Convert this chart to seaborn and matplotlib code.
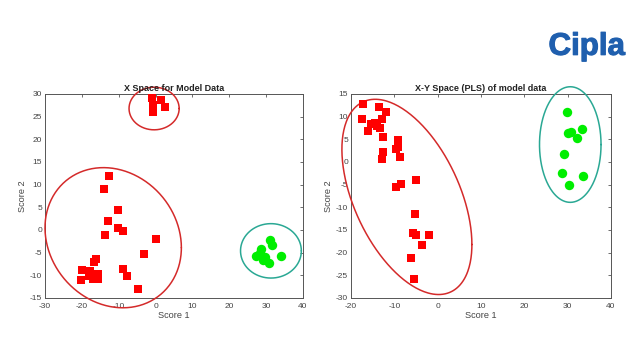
import numpy as np
import pandas as pd
import matplotlib.pyplot as plt
import matplotlib.patheffects as pe
import seaborn as sns

# Left panel: X space scores for the model data
x_red_s1 = [-1.1, 1.6, -0.8, -0.6, 2.5,
            -12.6, -14.0, -10.1, -13.0, -10.1, -8.9, -13.8, 0.0, -3.1,
            -16.2, -16.7, -20.0, -17.8, -15.5, -18.0, -16.9, -15.5,
            -8.9, -7.8, -20.3, -4.7]
x_red_s2 = [29.2, 28.7, 27.6, 26.1, 27.1,
            12.0, 9.1, 4.4, 2.0, 0.4, -0.2, -1.1, -2.0, -5.3,
            -6.5, -7.1, -8.8, -9.0, -9.6, -10.2, -10.8, -10.8,
            -8.7, -10.1, -11.0, -13.0]
x_green_s1 = [31.1, 31.7, 28.5, 28.2, 27.2, 29.6, 29.2, 30.8, 34.0]
x_green_s2 = [-2.3, -3.3, -4.1, -5.0, -5.7, -6.0, -6.7, -7.3, -5.8]

# Right panel: X-Y space (PLS) scores
xy_red_s1 = [-17.2, -13.5, -11.9, -17.5, -12.9, -15.5, -14.5, -14.1, -13.3,
             -16.0, -12.5, -9.1, -9.1, -9.1, -9.5, -12.5, -8.7, -12.8,
             -5.0, -8.5, -9.6, -5.2, -5.7, -5.1, -1.9, -3.7, -6.2, -5.5]
xy_red_s2 = [12.7, 12.2, 11.0, 9.5, 9.5, 8.4, 8.5, 8.0, 7.6,
             6.9, 5.6, 4.9, 3.9, 3.4, 2.9, 2.3, 1.1, 0.7,
             -4.0, -4.9, -5.6, -11.5, -15.7, -16.1, -16.1, -18.2, -21.1, -25.8]
xy_green_s1 = [29.8, 30.1, 30.8, 33.3, 32.2, 29.1, 28.7, 33.5, 30.2]
xy_green_s2 = [11.1, 6.3, 6.7, 7.3, 5.2, 1.8, -2.5, -3.1, -5.0]

# cluster ellipses: (cx, cy, half-width, half-height, shear)
left_ellipses = [(-0.4, 26.8, 6.8, 4.7, 0.0, '#d42a2a'),
                 (-11.5, -1.7, 18.5, 15.3, -2.2, '#d42a2a'),
                 (31.3, -4.6, 8.25, 6.0, 0.0, '#2aa894')]
right_ellipses = [(-7.1, -7.7, 15.0, 18.8, -10.5, '#d42a2a'),
                  (30.6, 3.85, 7.1, 12.75, 0.0, '#2aa894')]

sns.set_style('white')
plt.rcParams['font.family'] = ['Liberation Sans', 'DejaVu Sans']
plt.rcParams['axes.unicode_minus'] = False

RED = '#ff0000'
GREEN = '#00ee00'
AX_COL = '#555555'


def draw_ellipse(ax, cx, cy, a, e, d, color):
    t = np.linspace(0, 2 * np.pi, 300)
    ax.plot(cx + a * np.cos(t), cy + d * np.cos(t) + e * np.sin(t),
            color=color, lw=1.1, clip_on=False, zorder=3)


def panel(ax, rs1, rs2, gs1, gs2, ellipses, title, xlim, ylim):
    red = pd.DataFrame({'s1': rs1, 's2': rs2})
    green = pd.DataFrame({'s1': gs1, 's2': gs2})
    sns.scatterplot(data=red, x='s1', y='s2', ax=ax, marker='s', s=30,
                    color=RED, edgecolor=RED, linewidth=0, zorder=4)
    sns.scatterplot(data=green, x='s1', y='s2', ax=ax, marker='o', s=46,
                    color=GREEN, edgecolor=GREEN, linewidth=0, zorder=4)
    for cx, cy, a, e, d, c in ellipses:
        draw_ellipse(ax, cx, cy, a, e, d, c)
    ax.set_xlim(*xlim)
    ax.set_ylim(*ylim)
    ax.set_xticks(np.arange(xlim[0], xlim[1] + 1, 10))
    ax.set_yticks(np.arange(ylim[0], ylim[1] + 1, 5))
    ax.set_title(title, fontsize=6.5, fontweight='bold', color='#222222', pad=2)
    ax.set_xlabel('Score 1', fontsize=6.6, color='#444444', labelpad=1)
    ax.set_ylabel('Score 2', fontsize=6.6, color='#444444', labelpad=2)
    ax.tick_params(direction='in', length=2.5, width=0.6, colors=AX_COL,
                   labelsize=6, labelcolor='#444444', top=True, right=True)
    ax.tick_params(axis='x', pad=3.5)
    ax.tick_params(axis='y', pad=2)
    for sp in ax.spines.values():
        sp.set_color(AX_COL)
        sp.set_linewidth(0.7)


fig = plt.figure(figsize=(6.4, 3.6), dpi=100)
ax1 = fig.add_axes([45 / 640, 62 / 360, 258 / 640, 204 / 360])
ax2 = fig.add_axes([351 / 640, 62 / 360, 260 / 640, 204 / 360])

panel(ax1, x_red_s1, x_red_s2, x_green_s1, x_green_s2, left_ellipses,
      'X Space for Model Data', (-30, 40), (-15, 30))
panel(ax2, xy_red_s1, xy_red_s2, xy_green_s1, xy_green_s2, right_ellipses,
      'X-Y Space (PLS) of model data', (-20, 40), (-30, 15))

logo_col = '#1f5fae'
fig.text(0.976, 0.87, 'Cipla', ha='right', va='center', fontsize=22.5,
         fontweight='bold', color=logo_col,
         path_effects=[pe.withStroke(linewidth=0.8, foreground=logo_col)])

fig.savefig('out.png', dpi=100)
